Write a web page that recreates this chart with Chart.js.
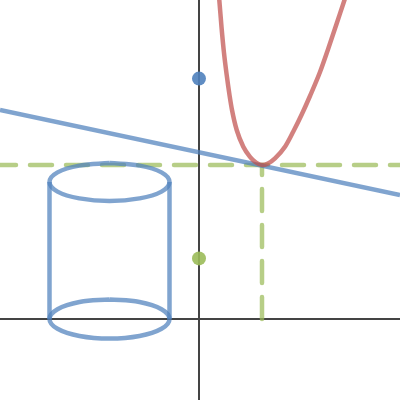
<!DOCTYPE html>
<html>
<head>
<meta charset="utf-8">
<title>Cylinder graph</title>
<script src="https://cdn.jsdelivr.net/npm/chart.js@4/dist/chart.umd.min.js"></script>
<style>
    html, body { margin: 0; padding: 0; background: #fff; }
    canvas { display: block; }
</style>
</head>
<body>
<canvas id="graphChart" width="400" height="400"></canvas>
<script>
// Values, in graph units
const curveX = [0.96, 1.015, 1.125, 1.25, 1.385, 1.525, 1.65, 1.885, 2.215, 2.55, 2.85, 3.15, 3.45, 3.80, 4.30, 4.715, 5.135, 5.55, 6.05, 6.465, 6.885, 7.275, 7.50];
const curveY = [16.5, 15.95, 14.6, 13.3, 12.2, 11.2, 10.45, 9.45, 8.615, 8.11, 7.825, 7.70, 7.78, 8.035, 8.615, 9.375, 10.225, 11.15, 12.35, 13.525, 14.775, 15.95, 16.6];

const slopeX = [-9.95, 10.05];
const slopeY = [10.45, 6.20];

const levelX = [-10.25, 10.5];
const levelY = [7.70, 7.70];
const dropX = [3.15, 3.15];
const dropY = [0, 7.70];

const rimX = [-4.475, -2.975, -1.875, -1.475, -1.875, -2.975, -4.475, -5.975, -7.075, -7.475, -7.075, -5.975, -4.475];
const topRimY = [7.80, 7.67, 7.33, 6.85, 6.37, 6.03, 5.90, 6.03, 6.37, 6.85, 7.33, 7.67, 7.80];
const baseRimY = [0.98, 0.85, 0.49, 0, -0.49, -0.85, -0.98, -0.85, -0.49, 0, 0.49, 0.85, 0.98];
const leftSideX = [-7.475, -7.475];
const rightSideX = [-1.475, -1.475];
const sideY = [6.85, 0];

const bluePoint = [0, 12.02];
const greenPoint = [0, 3.03];

const xRange = [-9.95, 10.05];
const yRange = [-4.05, 15.95];

// Colors
const blue = 'rgba(79, 129, 189, 0.72)';
const red = 'rgba(192, 80, 77, 0.72)';
const green = 'rgba(155, 187, 89, 0.72)';
const axisColor = '#444444';

function toPoints(xs, ys) {
    return xs.map((x, i) => ({ x: x, y: ys[i] }));
}

function lineSet(xs, ys, color, order, extra) {
    return Object.assign({
        data: toPoints(xs, ys),
        showLine: true,
        borderColor: color,
        borderWidth: 4.5,
        pointRadius: 0,
        fill: false,
        order: order
    }, extra || {});
}

function axisOptions(range, crossing) {
    return {
        type: 'linear',
        min: range[0],
        max: range[1],
        position: crossing,
        grid: { display: false, drawTicks: false },
        ticks: { display: false },
        border: { display: true, color: axisColor, width: 2 }
    };
}

document.addEventListener('DOMContentLoaded', function() {
    const dashed = { borderDash: [22, 14], borderCapStyle: 'round' };
    const ctx = document.getElementById('graphChart').getContext('2d');
    new Chart(ctx, {
        type: 'scatter',
        data: {
            datasets: [
                lineSet(curveX, curveY, red, 1, { cubicInterpolationMode: 'monotone' }),
                lineSet(slopeX, slopeY, blue, 2),
                lineSet(rimX, topRimY, blue, 3, { tension: 0.4 }),
                lineSet(rimX, baseRimY, blue, 3, { tension: 0.4 }),
                lineSet(leftSideX, sideY, blue, 3),
                lineSet(rightSideX, sideY, blue, 3),
                lineSet(levelX, levelY, green, 4, dashed),
                lineSet(dropX, dropY, green, 4, dashed),
                {
                    data: [{ x: bluePoint[0], y: bluePoint[1] }],
                    backgroundColor: 'rgba(79, 129, 189, 0.9)',
                    pointRadius: 7,
                    borderWidth: 0,
                    order: 0
                },
                {
                    data: [{ x: greenPoint[0], y: greenPoint[1] }],
                    backgroundColor: 'rgba(155, 187, 89, 0.9)',
                    pointRadius: 7,
                    borderWidth: 0,
                    order: 0
                }
            ]
        },
        options: {
            responsive: false,
            animation: false,
            layout: { padding: 0, autoPadding: false },
            plugins: {
                legend: { display: false },
                title: { display: false },
                tooltip: { enabled: false }
            },
            scales: {
                x: axisOptions(xRange, { y: 0 }),
                y: axisOptions(yRange, { x: 0 })
            }
        }
    });
});
</script>
</body>
</html>
